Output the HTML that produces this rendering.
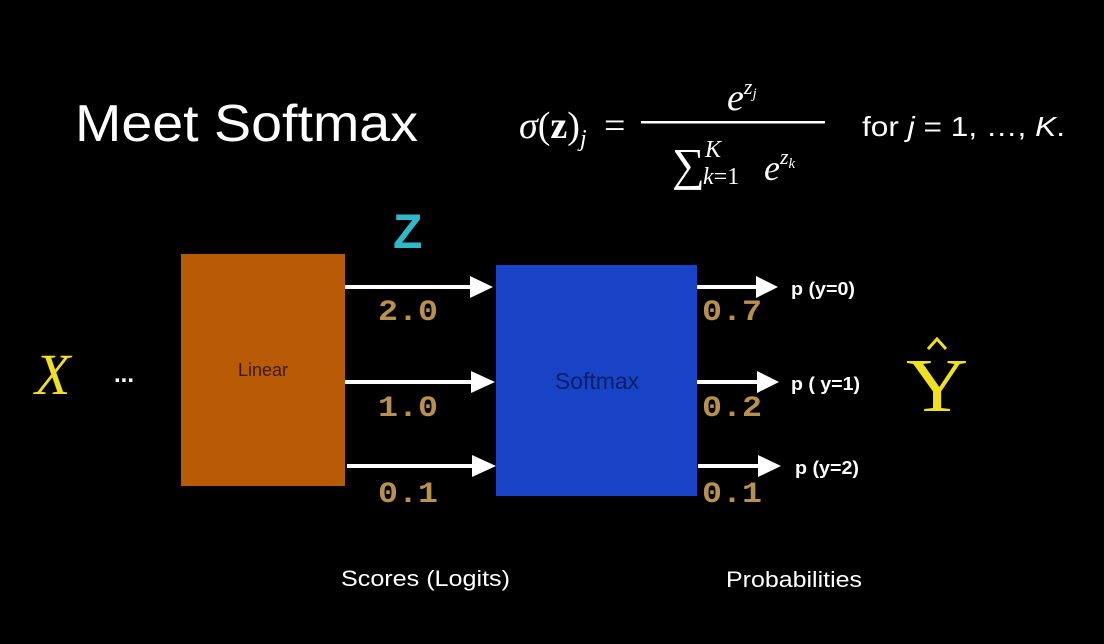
<!DOCTYPE html>
<html><head><meta charset="utf-8"><style>
html,body{margin:0;padding:0;background:#000;}
svg{display:block}
</style></head><body>
<svg width="1104" height="644" viewBox="0 0 1104 644" xmlns="http://www.w3.org/2000/svg">
<rect width="1104" height="644" fill="#000"/>
<text x="75" y="141" fill="#fff" font-family="Liberation Sans, sans-serif" font-size="52" textLength="343" lengthAdjust="spacingAndGlyphs">Meet Softmax</text>
<g fill="#fff" font-family="Liberation Serif, serif">
<text x="519" y="138" font-size="38"><tspan font-style="italic">σ</tspan>(<tspan font-weight="bold">z</tspan>)<tspan font-size="24" font-style="italic" dy="8">j</tspan></text>
<text x="604" y="138" font-size="38">=</text>
<rect x="641" y="121" width="184" height="2.5"/>
<text x="727" y="110" font-size="38" font-style="italic">e<tspan font-size="22" dy="-16">z</tspan><tspan font-size="15" dy="4">j</tspan></text>
<text x="672" y="180" font-size="46">∑</text>
<text x="705" y="157" font-size="24" font-style="italic">K</text>
<text x="703" y="184" font-size="24"><tspan font-style="italic">k</tspan>=1</text>
<text x="764" y="180" font-size="36" font-style="italic">e<tspan font-size="22" dy="-16">z</tspan><tspan font-size="15" dy="4">k</tspan></text>
</g>
<text x="862" y="136" fill="#fff" font-family="Liberation Sans, sans-serif" font-size="28" textLength="203" lengthAdjust="spacingAndGlyphs">for <tspan font-style="italic">j</tspan> = 1, …, <tspan font-style="italic">K</tspan>.</text>
<text x="393" y="248" fill="#2fb8c8" font-family="Liberation Sans, sans-serif" font-weight="bold" font-size="48">Z</text>
<text x="35" y="394" fill="#f0e020" font-family="Liberation Serif, serif" font-style="italic" font-size="58">X</text>
<text x="114" y="382" fill="#fff" font-family="Liberation Sans, sans-serif" font-weight="bold" font-size="24">...</text>
<rect x="181" y="254" width="164" height="232" fill="#b85a06"/>
<text x="263" y="376" fill="#3a1a05" font-family="Liberation Sans, sans-serif" font-size="18" text-anchor="middle">Linear</text>
<rect x="496" y="265" width="201" height="231" fill="#1843c6"/>
<text x="597" y="389" fill="#0c1f66" font-family="Liberation Sans, sans-serif" font-size="23" text-anchor="middle">Softmax</text>
<g fill="#fff" stroke="none">
<rect x="345" y="285" width="128" height="4"/><polygon points="470,276 493,287 470,298"/>
<rect x="345" y="380" width="130" height="4"/><polygon points="471,371 495,382 471,393"/>
<rect x="347" y="464" width="128" height="4"/><polygon points="472,455 496,466 472,477"/>
<rect x="697" y="285" width="62" height="4"/><polygon points="756,276 778,287 756,298"/>
<rect x="697" y="380" width="62" height="4"/><polygon points="757,371 779,382 757,393"/>
<rect x="698" y="464" width="62" height="4"/><polygon points="758,455 781,466 758,477"/>
</g>
<g fill="#b89050" font-family="Liberation Mono, monospace" font-weight="bold" font-size="30">
<text x="378" y="320" textLength="60" lengthAdjust="spacingAndGlyphs">2.0</text>
<text x="378" y="416" textLength="60" lengthAdjust="spacingAndGlyphs">1.0</text>
<text x="378" y="502" textLength="60" lengthAdjust="spacingAndGlyphs">0.1</text>
<text x="702" y="320" textLength="60" lengthAdjust="spacingAndGlyphs">0.7</text>
<text x="702" y="416" textLength="60" lengthAdjust="spacingAndGlyphs">0.2</text>
<text x="702" y="502" textLength="60" lengthAdjust="spacingAndGlyphs">0.1</text>
</g>
<g fill="#fff" font-family="Liberation Sans, sans-serif" font-weight="bold" font-size="18">
<text x="791" y="295" textLength="64" lengthAdjust="spacingAndGlyphs">p (y=0)</text>
<text x="791" y="390" textLength="69" lengthAdjust="spacingAndGlyphs">p ( y=1)</text>
<text x="795" y="474" textLength="64" lengthAdjust="spacingAndGlyphs">p (y=2)</text>
</g>
<text x="906" y="411" fill="#f0e020" font-family="Liberation Serif, serif" font-size="76" textLength="62" lengthAdjust="spacingAndGlyphs">Y</text>
<polyline points="928,349 937,339 946,349" fill="none" stroke="#f0e020" stroke-width="3"/>
<g fill="#fff" font-family="Liberation Sans, sans-serif" font-size="22">
<text x="341" y="586" textLength="169" lengthAdjust="spacingAndGlyphs">Scores (Logits)</text>
<text x="726" y="587" textLength="136" lengthAdjust="spacingAndGlyphs">Probabilities</text>
</g>
</svg>
</body></html>
